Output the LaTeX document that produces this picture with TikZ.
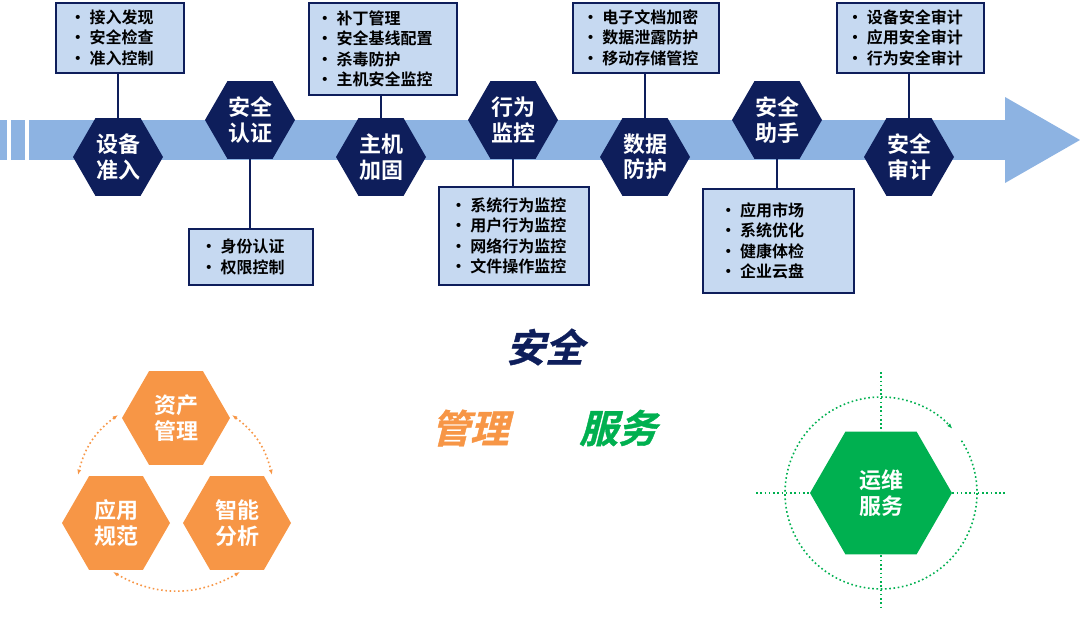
\documentclass[tikz,border=0pt]{standalone}
\usepackage{fontspec}
\setmainfont{Noto Sans CJK SC}[BoldFont={* Bold}]
\newfontfamily\slfont{Noto Sans CJK SC Bold}[FakeSlant=0.25,FakeBold=1]
\usetikzlibrary{shapes.geometric,arrows.meta}
\definecolor{navy}{HTML}{0E1E5B}
\definecolor{bar}{HTML}{8DB3E2}
\definecolor{boxf}{HTML}{C6D9F1}
\definecolor{org}{HTML}{F79646}
\definecolor{grn}{HTML}{00B050}
\begin{document}
\begin{tikzpicture}[x=0.75pt,y=-0.75pt,
 hex/.style={regular polygon,regular polygon sides=6,inner sep=0pt,fill=navy,text=white,font=\bfseries\fontsize{16.5}{19}\selectfont,align=center,minimum size=67.5pt},
 box/.style={draw=navy,line width=1.2pt,fill=boxf,inner sep=0pt,anchor=north west},
 btxt/.style={align=left,font=\bfseries\fontsize{12}{15.4}\selectfont},
 conn/.style={navy,line width=2pt},
 ohex/.style={hex,fill=org,minimum size=81pt},
 odot/.style={org,line width=1.2pt,dotted,{Latex[length=4pt]}-{Latex[length=4pt]}},
 gdot/.style={grn,line width=1.2pt,dotted},
 big/.style={font=\slfont\fontsize{29}{33}\selectfont}]
\useasboundingbox (0,0) rectangle (1080,617);
% bar
\fill[bar] (0,120) rectangle (7,160);
\fill[bar] (11,120) rectangle (25,160);
\fill[bar] (29,120) rectangle (1005,160);
\fill[bar] (1005,97) -- (1080,140) -- (1005,183) -- cycle;
% boxes
\node[box,minimum width=128*0.75pt,minimum height=70*0.75pt] (b1) at (55,2) {};
\node[btxt] at ([xshift=-6]b1.center) {• 接入发现\\• 安全检查\\• 准入控制};
\node[box,minimum width=124*0.75pt,minimum height=56*0.75pt] (b2) at (188,228) {};
\node[btxt] at ([xshift=-6]b2.center) {• 身份认证\\• 权限控制};
\node[box,minimum width=148*0.75pt,minimum height=92*0.75pt] (b3) at (308,2) {};
\node[btxt] at ([xshift=-6]b3.center) {• 补丁管理\\• 安全基线配置\\• 杀毒防护\\• 主机安全监控};
\node[box,minimum width=150*0.75pt,minimum height=98*0.75pt] (b4) at (438,186) {};
\node[btxt] at ([xshift=-4]b4.center) {• 系统行为监控\\• 用户行为监控\\• 网络行为监控\\• 文件操作监控};
\node[box,minimum width=146*0.75pt,minimum height=70*0.75pt] (b5) at (572,2) {};
\node[btxt] at ([xshift=-4]b5.center) {• 电子文档加密\\• 数据泄露防护\\• 移动存储管控};
\node[box,minimum width=151*0.75pt,minimum height=104*0.75pt] (b6) at (702,188) {};
\node[btxt] at ([xshift=-12]b6.center) {• 应用市场\\• 系统优化\\• 健康体检\\• 企业云盘};
\node[box,minimum width=147*0.75pt,minimum height=70*0.75pt] (b7) at (836,2) {};
\node[btxt] at ([xshift=-4]b7.center) {• 设备安全审计\\• 应用安全审计\\• 行为安全审计};
% hexes
\node[hex] (h1) at (118,157) {设备\\准入};
\node[hex] (h2) at (250,120) {安全\\认证};
\node[hex] (h3) at (381,157) {主机\\加固};
\node[hex] (h4) at (513,120) {行为\\监控};
\node[hex] (h5) at (645,157) {数据\\防护};
\node[hex] (h6) at (777,120) {安全\\助手};
\node[hex] (h7) at (909,157) {安全\\审计};
\draw[conn] (h1.north) -- (h1.north |- b1.south);
\draw[conn] (h2.south) -- (h2.south |- b2.north);
\draw[conn] (h3.north) -- (h3.north |- b3.south);
\draw[conn] (h4.south) -- (h4.south |- b4.north);
\draw[conn] (h5.north) -- (h5.north |- b5.south);
\draw[conn] (h6.south) -- (h6.south |- b6.north);
\draw[conn] (h7.north) -- (h7.north |- b7.south);
% titles
\node[text=navy,big] (t1) at (545,347) {安全};
\node[text=org,big] (t2) at (470,428) {管理};
\node[text=grn,big] (t3) at (618,428) {服务};
% orange cycle
\node[ohex] (o1) at (176,418) {资产\\管理};
\node[ohex] (o2) at (116,523) {应用\\规范};
\node[ohex] (o3) at (237,523) {智能\\分析};
\draw[odot] (118,415) to[bend right=20] (78,475);
\draw[odot] (232,415) to[bend left=20] (272,475);
\draw[odot] (113,572) to[bend right=30] (240,572);
% green
\coordinate (gc) at (881,493);
\draw[gdot] (756,493) -- (1006,493);
\draw[gdot] (881,372) -- (881,610);
\draw[gdot] (gc) ++(-33:96) arc[start angle=-33,end angle=275,radius=96];
\draw[gdot,-{Latex[length=4pt]}] (gc) ++(-85:96) arc[start angle=-85,end angle=-42,radius=96];
\node[hex,fill=grn,minimum size=106.5pt] (g) at (gc) {运维\\服务};
\end{tikzpicture}
\end{document}
